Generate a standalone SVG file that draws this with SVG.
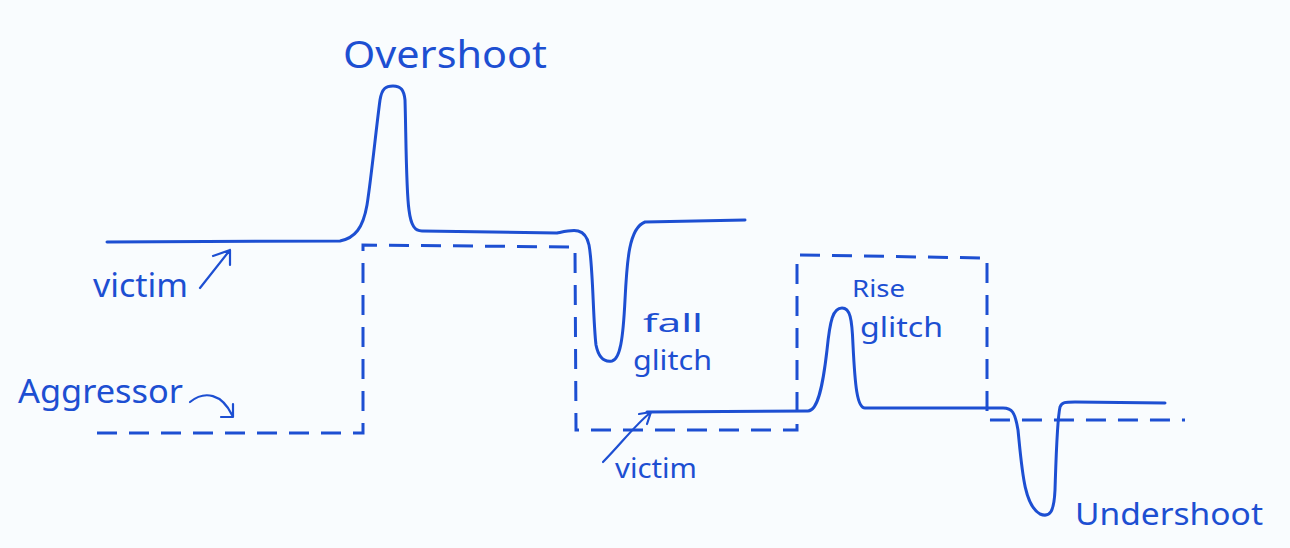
<svg xmlns="http://www.w3.org/2000/svg" width="1290" height="548" viewBox="0 0 1290 548">
<style>
.ink{fill:none;stroke:#1d4fd2;stroke-width:3;stroke-linecap:round;stroke-linejoin:round}
.dash{fill:none;stroke:#1d4fd2;stroke-width:3;stroke-dasharray:20 12;stroke-linecap:butt}
.arw{fill:none;stroke:#1d4fd2;stroke-width:2.2;stroke-linecap:round;stroke-linejoin:round}
.lbl{font-family:"Noto Sans","DejaVu Sans",sans-serif;fill:#1d4fd2}
</style>
<rect x="0" y="0" width="1290" height="548" fill="#f9fcfe"/>
<g id="aggressor">
<path class="dash" d="M97,433 L363,433 L363,245 L575,247 L576,430 L797,430 L797,255 L987,258 L987,420 L1185,420"/>
</g>
<g id="victim-upper">
<path class="ink" d="M107,242 L340,241 C355,238 363,228 367,205 C371,180 376,130 380,100 C382,88 386,86 393,86 C401,86 404,90 405,100 C406,130 406,190 409,210 C411,226 415,231 422,231 L557,233 C572,230 585,226 589,245 C593,265 593,320 596,345 C599,360 606,362 612,361 C620,359 623,340 625,300 C627,260 629,228 645,222 L745,220"/>
</g>
<g id="victim-lower">
<path class="ink" d="M647,412 L808,411 C818,411 823,385 827,350 C830,320 833,308 842,308 C850,308 852,318 853,345 C855,385 857,408 865,408 L1003,408 C1012,408 1015,412 1018,430 C1022,470 1024,505 1040,514 C1050,518 1054,512 1055,490 C1056,460 1057,420 1060,407 C1062,402 1065,402 1075,402 L1165,403"/>
</g>
<g id="connectors">
<path class="arw" d="M200,288 L230,250 M213,256 L230,250 L230,265"/>
<path class="arw" d="M190,402 C205,390 222,394 232,415 M221,417 L233,417 L233,404"/>
<path class="arw" d="M603,462 C620,445 635,425 650,413 M639,414 L651,412 L647,424"/>
</g>
<g id="labels">
<text class="lbl" x="643" y="332" font-size="26" textLength="60" lengthAdjust="spacingAndGlyphs">fall</text>
<text class="lbl" x="633" y="370" font-size="28" textLength="79" lengthAdjust="spacingAndGlyphs">glitch</text>
<text class="lbl" x="343" y="68" font-size="38" textLength="204" lengthAdjust="spacingAndGlyphs">Overshoot</text>
<text class="lbl" x="93" y="297" font-size="32" textLength="95" lengthAdjust="spacingAndGlyphs">victim</text>
<text class="lbl" x="18" y="403" font-size="32" textLength="165" lengthAdjust="spacingAndGlyphs">Aggressor</text>
<text class="lbl" x="615" y="478" font-size="28" textLength="82" lengthAdjust="spacingAndGlyphs">victim</text>
<text class="lbl" x="852" y="297" font-size="24" textLength="53" lengthAdjust="spacingAndGlyphs">Rise</text>
<text class="lbl" x="860" y="337" font-size="28" textLength="83" lengthAdjust="spacingAndGlyphs">glitch</text>
<text class="lbl" x="1075" y="525" font-size="30" textLength="188" lengthAdjust="spacingAndGlyphs">Undershoot</text>
</g>
</svg>
